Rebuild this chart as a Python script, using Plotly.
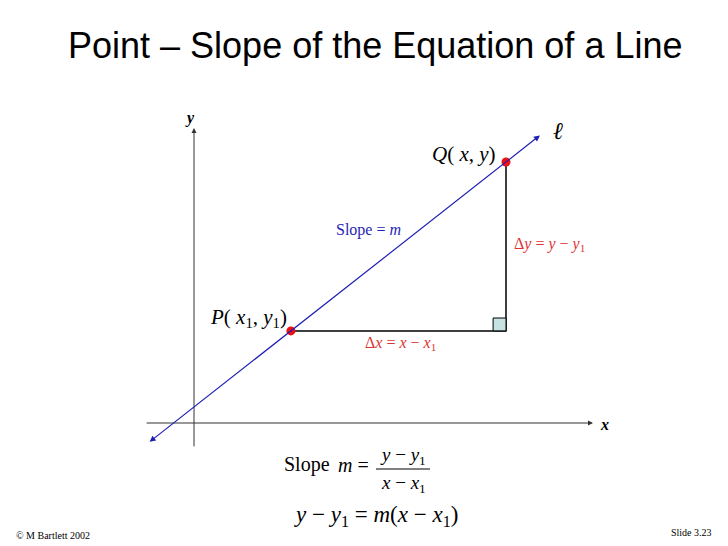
import plotly.graph_objects as go

# point P(x1, y1) and Q(x, y) in plot units
p_point = [3.23, 3.07]
q_point = [10.4, 8.7]
# ends of the line l (both arrows)
line_x = [-1.53, 11.53]
# axis extents
x_axis = [-1.63, 13.3]
y_axis = [-0.83, 9.83]
corner_size = 0.43

W, H = 728, 546
UNIT = 30.0
ORIGIN_PX = (194, 423)

slope = (q_point[1] - p_point[1]) / (q_point[0] - p_point[0])
line_y = [p_point[1] + slope * (x - p_point[0]) for x in line_x]

SERIF = "Liberation Serif"
BLUE = "#1f1fb4"
RED = "#dd3333"


def px(x):
    return x / W


def py(y):
    return 1 - y / H


fig = go.Figure()

# right triangle legs
fig.add_trace(go.Scatter(
    x=[p_point[0], q_point[0], q_point[0]],
    y=[p_point[1], p_point[1], q_point[1]],
    mode="lines", line=dict(color="black", width=1.5),
    hoverinfo="skip", showlegend=False))

# right angle square
fig.add_shape(type="rect",
              x0=q_point[0] - corner_size, x1=q_point[0],
              y0=p_point[1], y1=p_point[1] + corner_size,
              fillcolor="#c5e3e3", line=dict(color="black", width=1))

# points
fig.add_trace(go.Scatter(
    x=[p_point[0], q_point[0]], y=[p_point[1], q_point[1]],
    mode="markers", marker=dict(color="#ee1111", size=9),
    hoverinfo="skip", showlegend=False))

arrow = dict(xref="x", yref="y", axref="x", ayref="y", text="",
             showarrow=True, arrowsize=1)
# x axis, y axis
fig.add_annotation(x=x_axis[1], y=0, ax=x_axis[0], ay=0,
                   arrowhead=2, arrowwidth=1, arrowcolor="#333333", **arrow)
fig.add_annotation(x=0, y=y_axis[1], ax=0, ay=y_axis[0],
                   arrowhead=2, arrowwidth=1, arrowcolor="#333333", **arrow)
# line l
fig.add_annotation(x=line_x[1], y=line_y[1], ax=line_x[0], ay=line_y[0],
                   arrowhead=2, startarrowhead=2, arrowside="end+start",
                   arrowwidth=1.2, arrowcolor=BLUE, **arrow)


def label(x, y, text, size, color="black", family=SERIF, xanchor="center"):
    fig.add_annotation(x=px(x), y=py(y), xref="paper", yref="paper",
                       text=text, showarrow=False, xanchor=xanchor,
                       yanchor="middle",
                       font=dict(family=family, size=size, color=color))


label(375, 45, "Point – Slope of the Equation of a Line", 36,
      family="Liberation Sans")
label(190, 118, "<b><i>y</i></b>", 16)
label(604, 424, "<b><i>x</i></b>", 16)
label(498, 154, "<i>Q</i>( <i>x</i>, <i>y</i>)", 21, xanchor="right")
label(558, 131, "<i>ℓ</i>", 24)
label(289, 318, "<i>P</i>( <i>x</i><sub>1</sub>, <i>y</i><sub>1</sub>)", 21,
      xanchor="right")
label(368, 230, "Slope = <i>m</i>", 16, color=BLUE)
label(512, 245, "Δ<i>y</i> = <i>y</i> − <i>y</i><sub>1</sub>", 16,
      color=RED, xanchor="left")
label(400, 343, "Δ<i>x</i> = <i>x</i> − <i>x</i><sub>1</sub>", 16, color=RED)

# slope formula
label(282, 464, "Slope", 20, xanchor="left")
label(336, 465, "<i>m</i> =", 20, xanchor="left")
label(403, 456, "<i>y</i> − <i>y</i><sub>1</sub>", 19)
label(403, 484, "<i>x</i> − <i>x</i><sub>1</sub>", 19)
fig.add_shape(type="line", xref="paper", yref="paper",
              x0=px(376), x1=px(430), y0=py(469), y1=py(469),
              line=dict(color="black", width=1))
label(376, 516, "<i>y</i> − <i>y</i><sub>1</sub> = <i>m</i>(<i>x</i> − <i>x</i><sub>1</sub>)",
      23)

label(14, 535, "© M Bartlett 2002", 10, xanchor="left")
label(714, 532, "Slide 3.23", 10, xanchor="right")

fig.update_xaxes(visible=False, range=[-ORIGIN_PX[0] / UNIT, (W - ORIGIN_PX[0]) / UNIT])
fig.update_yaxes(visible=False, range=[-(H - ORIGIN_PX[1]) / UNIT, ORIGIN_PX[1] / UNIT])
fig.update_layout(
    width=W, height=H,
    margin=dict(l=0, r=0, t=0, b=0),
    plot_bgcolor="white", paper_bgcolor="white",
    showlegend=False,
)

# the page body has a default margin; drop it so the slide fills the window
fig.write_html("out.html", config={"displayModeBar": False},
               post_script="document.body.style.margin='0';")
